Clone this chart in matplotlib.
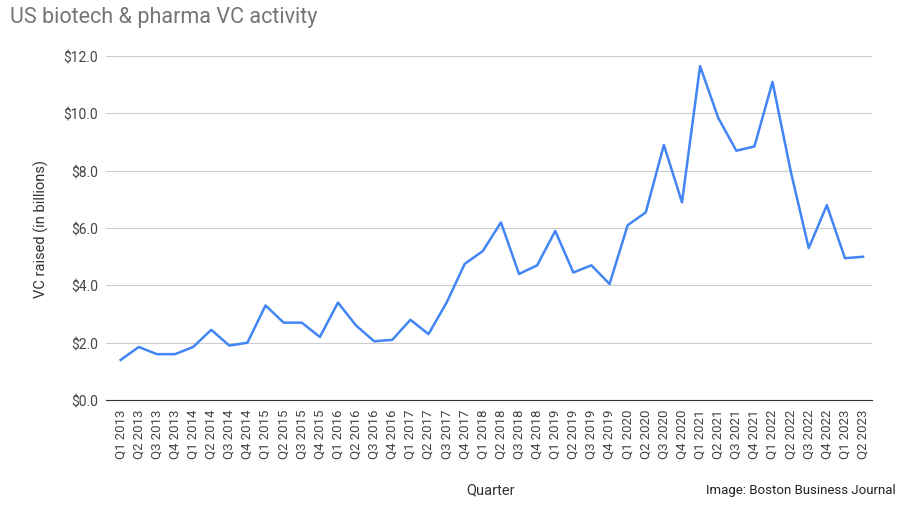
import matplotlib
matplotlib.use("Agg")
import matplotlib.pyplot as plt
plt.rcParams['font.family'] = ['Roboto', 'DejaVu Sans']

quarters = [f"Q{q} {y}" for y in range(2013, 2024) for q in range(1, 5)][:42]
values = [1.4, 1.85, 1.6, 1.6, 1.85, 2.45, 1.9, 2.0, 3.3, 2.7, 2.7, 2.2,
          3.4, 2.6, 2.05, 2.1, 2.8, 2.3, 3.4, 4.75, 5.2, 6.2, 4.4, 4.7,
          5.9, 4.45, 4.7, 4.05, 6.1, 6.55, 8.9, 6.9, 11.65, 9.85, 8.7, 8.85,
          11.1, 8.0, 5.3, 6.8, 4.95, 5.0]
yticks = [0, 2, 4, 6, 8, 10, 12]

fig = plt.figure(figsize=(9, 5.06), dpi=100)
ax = fig.add_axes([0.118, 0.2075, 0.851, 0.6795])
x = list(range(len(values)))
ax.plot(x, values, color="#4285F4", lw=1.8)
ax.set_xlim(-0.8, len(values) - 0.5)
ax.set_ylim(0, 12)
ax.set_yticks(yticks)
ax.set_yticklabels([f"${v:.1f}" for v in yticks], fontsize=10, color="#444444")
ax.set_xticks(x)
ax.set_xticklabels(quarters, rotation=90, fontsize=9.5, color="#444444")
ax.grid(axis="y", color="#cccccc", lw=0.8)
ax.set_axisbelow(True)
for s in ["top", "right", "left"]:
    ax.spines[s].set_visible(False)
ax.spines["bottom"].set_color("#333333")
ax.tick_params(length=0, pad=6)
ax.set_ylabel("VC raised (in billions)", fontsize=10.5, color="#333333", labelpad=10)
fig.text(0.545, 0.017, "Quarter", ha="center", va="bottom", fontsize=10.5, color="#333333")
fig.text(0.995, 0.017, "Image: Boston Business Journal", ha="right", va="bottom", fontsize=9.5, color="#222222")
fig.text(0.011, 0.965, "US biotech & pharma VC activity", ha="left", va="center", fontsize=15.5, color="#757575")
fig.savefig("out.png", dpi=100, facecolor="white")
